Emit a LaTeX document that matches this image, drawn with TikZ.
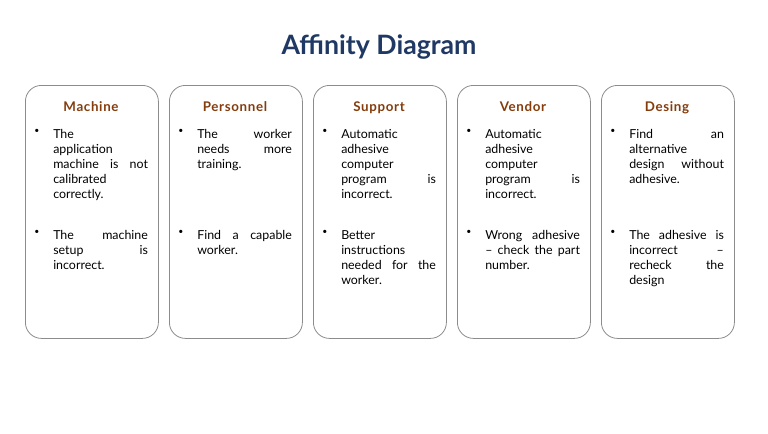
\documentclass[tikz,border=0pt]{standalone}
\usepackage{fontspec}
\setmainfont{Lato}
\usepackage{xcolor}
\usetikzlibrary{positioning}
\definecolor{titleblue}{HTML}{1F3864}
\definecolor{headbrown}{HTML}{843C0C}
\tikzset{
  card/.style={draw=black!45,line width=0.6pt,rounded corners=12pt,minimum width=133*0.75pt,minimum height=253*0.75pt,anchor=north west},
  head/.style={text=headbrown,text height=7pt,text depth=2pt,font=\fontsize{10}{12}\selectfont\bfseries\addfontfeature{LetterSpace=5}},
  item/.style={anchor=north west,inner sep=0pt,text width=71pt,align=justify,font=\fontsize{9.3}{11.3}\selectfont},
  bul/.style={anchor=north west,inner sep=0pt,font=\fontsize{9.3}{11.3}\selectfont}
}
\newcommand{\affcard}[5]{%
  \node[card] (#1) at (#2,85) {};
  \node[head] (#1h) at (#2+66,108) {#3};
  \node[bul] (#1b1) at (#2+9,129) {\scalebox{0.7}{\textbullet}};
  \node[item] (#1i1) at (#2+28,129) {#4};
  \node[bul] (#1b2) at (#2+9,230) {\scalebox{0.7}{\textbullet}};
  \node[item] (#1i2) at (#2+28,230) {#5};
}
\begin{document}
\begin{tikzpicture}[x=0.75pt,y=-0.75pt]
\useasboundingbox (0,0) rectangle (768,433);
\node[text=titleblue,font=\fontsize{20}{24}\selectfont\bfseries] (title) at (379,47) {Affinity Diagram};
% the five groups
\affcard{mach}{25}{Machine}{The\linebreak application\linebreak machine is not\linebreak calibrated\linebreak correctly.}{The machine\linebreak setup is\linebreak incorrect.}
\affcard{pers}{169}{Personnel}{The worker\linebreak needs more\linebreak training.}{Find a capable\linebreak worker.}
\affcard{supp}{313}{Support}{Automatic\linebreak adhesive\linebreak computer\linebreak program is\linebreak incorrect.}{Better\linebreak instructions\linebreak needed for the\linebreak worker.}
\affcard{vend}{457}{Vendor}{Automatic\linebreak adhesive\linebreak computer\linebreak program is\linebreak incorrect.}{Wrong adhesive\linebreak -- check the part\linebreak number.}
\affcard{desi}{601}{Desing}{Find an\linebreak alternative\linebreak design without\linebreak adhesive.}{The adhesive is\linebreak incorrect --\linebreak recheck the\linebreak design}
\end{tikzpicture}
\end{document}
